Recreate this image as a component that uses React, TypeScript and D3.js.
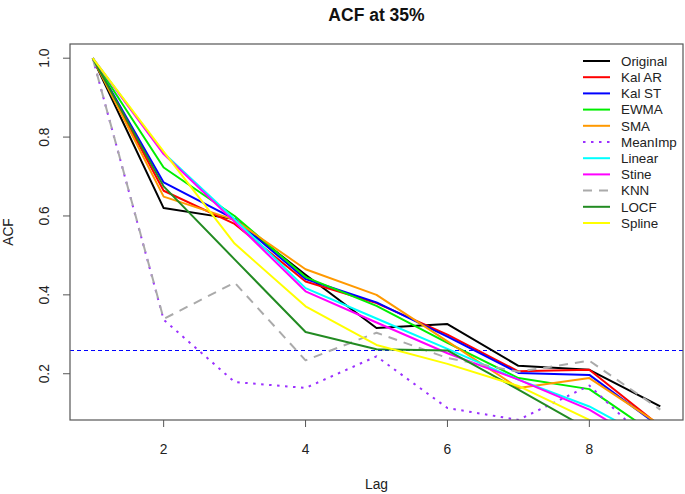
import * as d3 from "d3";

const WIDTH = 685;
const HEIGHT = 494;
const MARGIN = { top: 44, right: 2, bottom: 74, left: 70 };

// ACF values, lags plotted at index 1..9
const lags = [1, 2, 3, 4, 5, 6, 7, 8, 9];
const original = [1, 0.62, 0.592, 0.451, 0.316, 0.326, 0.22, 0.21, 0.117];
const kalAR = [1, 0.664, 0.58, 0.434, 0.379, 0.299, 0.206, 0.21, 0.067];
const kalST = [1, 0.685, 0.592, 0.44, 0.381, 0.294, 0.202, 0.197, 0.065];
const ewma = [1, 0.723, 0.6, 0.445, 0.372, 0.278, 0.189, 0.161, 0.038];
const sma = [1, 0.649, 0.59, 0.465, 0.4, 0.282, 0.164, 0.189, 0.07];
const meanImp = [1, 0.337, 0.179, 0.164, 0.244, 0.113, 0.083, 0.17, 0.0];
const linear = [1, 0.76, 0.592, 0.417, 0.34, 0.263, 0.185, 0.117, 0.02];
const stine = [1, 0.757, 0.585, 0.409, 0.33, 0.252, 0.185, 0.109, 0.0];
const knn = [1, 0.339, 0.431, 0.234, 0.304, 0.24, 0.205, 0.233, 0.109];
const locf = [1, 0.675, 0.49, 0.306, 0.262, 0.259, 0.16, 0.058, -0.04];
const spline = [1, 0.763, 0.53, 0.371, 0.273, 0.225, 0.169, 0.083, 0.0];

const confLimit = 0.26;
const xTicks = [2, 4, 6, 8];
const yTicks = [0.2, 0.4, 0.6, 0.8, 1.0];

const series = [
  { name: "Original", values: original, color: "#000000", dash: "" },
  { name: "Kal AR", values: kalAR, color: "#ff0000", dash: "" },
  { name: "Kal ST", values: kalST, color: "#0000ff", dash: "" },
  { name: "EWMA", values: ewma, color: "#00ee00", dash: "" },
  { name: "SMA", values: sma, color: "#ff9900", dash: "" },
  { name: "MeanImp", values: meanImp, color: "#9b30ff", dash: "2.5,5.5" },
  { name: "Linear", values: linear, color: "#00ffff", dash: "" },
  { name: "Stine", values: stine, color: "#ff00ff", dash: "" },
  { name: "KNN", values: knn, color: "#aaaaaa", dash: "9,7" },
  { name: "LOCF", values: locf, color: "#228b22", dash: "" },
  { name: "Spline", values: spline, color: "#ffff00", dash: "" },
];

const FONT = "'Liberation Sans', Arial, sans-serif";

export default function App() {
  const boundsWidth = WIDTH - MARGIN.left - MARGIN.right;
  const boundsHeight = HEIGHT - MARGIN.top - MARGIN.bottom;

  // R style 4% extension of the axis ranges
  const xScale = d3.scaleLinear().domain([0.68, 9.32]).range([0, boundsWidth]);
  const yScale = d3.scaleLinear().domain([0.0827, 1.036]).range([boundsHeight, 0]);

  const lineGen = d3
    .line<number>()
    .x((_, i) => xScale(lags[i]))
    .y((d) => yScale(d));

  const legendX = 583 - MARGIN.left;
  const legendY = 61 - MARGIN.top;
  const legendStep = 16.2;

  return (
    <svg
      width={WIDTH}
      height={HEIGHT}
      style={{ position: "absolute", left: 0, top: 0, background: "#fff" }}
      fontFamily={FONT}
    >
      <defs>
        <clipPath id="plot-clip">
          <rect x={0} y={0} width={boundsWidth} height={boundsHeight} />
        </clipPath>
      </defs>

      <text
        x={MARGIN.left + boundsWidth / 2}
        y={21}
        textAnchor="middle"
        fontSize={17.5}
        fontWeight="bold"
        fill="#111"
      >
        ACF at 35%
      </text>

      <g transform={`translate(${MARGIN.left},${MARGIN.top})`}>
        <g clipPath="url(#plot-clip)">
          <line
            x1={0}
            x2={boundsWidth}
            y1={Math.round(yScale(confLimit)) + 0.5}
            y2={Math.round(yScale(confLimit)) + 0.5}
            stroke="#0000ff"
            strokeWidth={1.2}
            strokeDasharray="4,3"
          />
          {series.map((s) => (
            <path
              key={s.name}
              d={lineGen(s.values) || ""}
              fill="none"
              stroke={s.color}
              strokeWidth={2}
              strokeDasharray={s.dash || undefined}
              strokeLinejoin="round"
            />
          ))}
        </g>

        {/* box */}
        <rect
          x={0}
          y={0}
          width={boundsWidth}
          height={boundsHeight}
          fill="none"
          stroke="#555"
          strokeWidth={1.2}
        />

        {/* x axis */}
        {xTicks.map((t) => (
          <g key={t} transform={`translate(${xScale(t)},${boundsHeight})`}>
            <line y1={0} y2={7} stroke="#555" />
            <text y={34} textAnchor="middle" fontSize={13.8} fill="#222">
              {t}
            </text>
          </g>
        ))}
        <text
          x={boundsWidth / 2}
          y={HEIGHT - MARGIN.top - 5}
          textAnchor="middle"
          fontSize={13.8}
          fill="#222"
        >
          Lag
        </text>

        {/* y axis */}
        {yTicks.map((t) => (
          <g key={t} transform={`translate(0,${yScale(t)})`}>
            <line x1={0} x2={-7} stroke="#555" />
            <text
              transform={`translate(-21,0) rotate(-90)`}
              textAnchor="middle"
              fontSize={13.8}
              fill="#222"
            >
              {t.toFixed(1)}
            </text>
          </g>
        ))}
        <text
          transform={`translate(${13 - MARGIN.left},${boundsHeight / 2}) rotate(-90)`}
          textAnchor="middle"
          fontSize={13.8}
          fill="#222"
        >
          ACF
        </text>

        {/* legend */}
        {series.map((s, i) => (
          <g key={s.name} transform={`translate(${legendX},${legendY + i * legendStep})`}>
            <line
              x1={0}
              x2={27}
              y1={0}
              y2={0}
              stroke={s.color}
              strokeWidth={2}
              strokeDasharray={s.dash || undefined}
            />
            <text x={38} y={4.8} fontSize={13.4} fill="#222">
              {s.name}
            </text>
          </g>
        ))}
      </g>
    </svg>
  );
}
